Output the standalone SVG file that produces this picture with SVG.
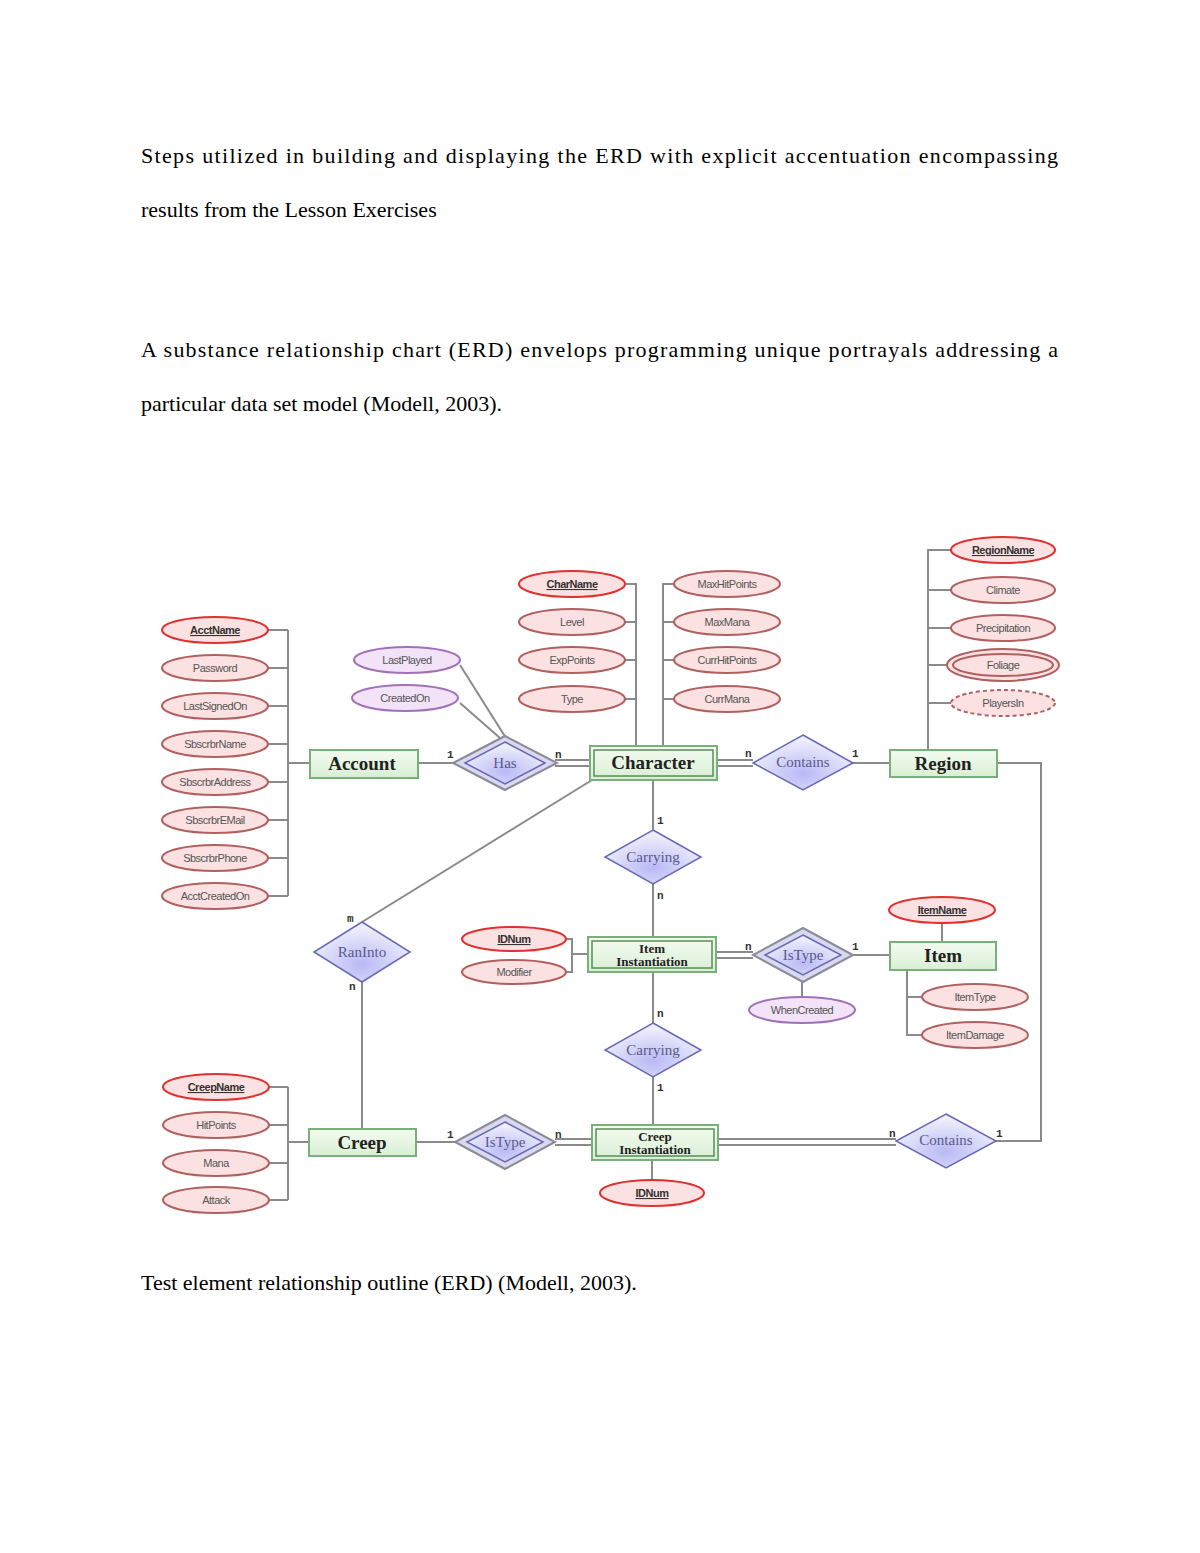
<svg xmlns="http://www.w3.org/2000/svg" width="1200" height="1553" viewBox="0 0 1200 1553">
<defs>
<radialGradient id="rg" cx="50%" cy="70%" r="60%"><stop offset="0" stop-color="#b9b9f5"/><stop offset="1" stop-color="#eeeefc"/></radialGradient>
<linearGradient id="eg" x1="0" y1="0" x2="0" y2="1"><stop offset="0" stop-color="#f4fbf0"/><stop offset="1" stop-color="#d8efd4"/></linearGradient>
</defs>
<style>
.p{font-family:"Liberation Serif",serif;font-size:22px;fill:#000}
.c{stroke:#8a8a8a;stroke-width:2;fill:none}
.ent rect{fill:url(#eg);stroke:#79b079;stroke-width:2}
.ent .in{fill:none;stroke:#5c8a5c;stroke-width:1.5}
.et{font-family:"Liberation Serif",serif;font-weight:bold;font-size:19px;fill:#222;text-anchor:middle}
.et2{font-family:"Liberation Serif",serif;font-weight:bold;font-size:13px;fill:#222;text-anchor:middle}
.at ellipse{fill:#fbe1e1;stroke:#b06060;stroke-width:2}
.key ellipse{stroke:#e03030}
.pu ellipse{fill:#f3e3f8;stroke:#a070b8}
.at text{font-family:"Liberation Sans",sans-serif;font-size:11px;fill:#555;text-anchor:middle;letter-spacing:-0.5px}
.key text{text-decoration:underline;font-weight:bold;fill:#333}
.rel polygon{fill:url(#rg);stroke:#6868b8;stroke-width:1.5}
.rel .o{fill:#d8d8ee;stroke:#8a8a9a;stroke-width:2}
.rt{font-family:"Liberation Serif",serif;font-size:15px;fill:#5a5a8a;text-anchor:middle}
.lb{font-family:"Liberation Mono",monospace;font-size:11px;font-weight:bold;fill:#333}
</style>
<rect width="1200" height="1553" fill="#fff"/>
<text class="p" x="141" y="163" textLength="917" lengthAdjust="spacing">Steps utilized in building and displaying the ERD with explicit accentuation encompassing</text>
<text class="p" x="141" y="217">results from the Lesson Exercises</text>
<text class="p" x="141" y="357" textLength="917" lengthAdjust="spacing">A substance relationship chart (ERD) envelops programming unique portrayals addressing a</text>
<text class="p" x="141" y="411">particular data set model (Modell, 2003).</text>
<text class="p" x="141" y="1290">Test element relationship outline (ERD) (Modell, 2003).</text>

<g id="connectors">
<path class="c" d="M268 630H288M268 668H288M268 706H288M268 744H288M268 782H288M268 820H288M268 858H288M268 896H288M288 630V896M288 763H310"/>
<path class="c" d="M418 763H455M555 760H590M555 766H590"/>
<path class="c" d="M460 665L506 738M460 703L500 738"/>
<path class="c" d="M625 584H636V746M625 622H636M625 660H636M625 699H636M680 584H663V746M680 622H663M680 660H663M680 699H663"/>
<path class="c" d="M717 760H753M717 766H753M853 763H890"/>
<path class="c" d="M955 550H928V750M955 590H928M955 628H928M948 665H928M955 703H928"/>
<path class="c" d="M997 763H1041V1141H996"/>
<path class="c" d="M653 780V830M653 884V937M653 972V1023M653 1077V1125"/>
<path class="c" d="M566 939H572V972H566M572 954H588"/>
<path class="c" d="M716 952H753M716 958H753M853 955H890M942 924V942M802 982V996"/>
<path class="c" d="M907 970V1035H922M907 997H922"/>
<path class="c" d="M718 1139H896M718 1145H896M652 1160V1179"/>
<path class="c" d="M268 1087H288M268 1125H288M268 1163H288M268 1200H288M288 1087V1200M288 1142H309"/>
<path class="c" d="M416 1142H455M555 1139H592M555 1145H592"/>
<path class="c" d="M592 780L362 922M362 982V1129" stroke-width="1.5"/>
</g>
<g>
<text class="lb" x="447" y="758">1</text><text class="lb" x="555" y="758">n</text>
<text class="lb" x="745" y="757">n</text><text class="lb" x="852" y="757">1</text>
<text class="lb" x="657" y="824">1</text><text class="lb" x="657" y="899">n</text>
<text class="lb" x="745" y="950">n</text><text class="lb" x="852" y="950">1</text>
<text class="lb" x="657" y="1017">n</text><text class="lb" x="657" y="1091">1</text>
<text class="lb" x="447" y="1138">1</text><text class="lb" x="555" y="1138">n</text>
<text class="lb" x="889" y="1137">n</text><text class="lb" x="996" y="1137">1</text>
<text class="lb" x="347" y="922">m</text><text class="lb" x="349" y="990">n</text>
</g>

<g id="acctname" class="at key"><ellipse cx="215" cy="630" rx="53" ry="13"/><text x="215" y="634">AcctName</text></g>
<g id="password" class="at"><ellipse cx="215" cy="668" rx="53" ry="13"/><text x="215" y="672">Password</text></g>
<g id="lastsignedon" class="at"><ellipse cx="215" cy="706" rx="53" ry="13"/><text x="215" y="710">LastSignedOn</text></g>
<g id="sbscrbrname" class="at"><ellipse cx="215" cy="744" rx="53" ry="13"/><text x="215" y="748">SbscrbrName</text></g>
<g id="sbscrbraddress" class="at"><ellipse cx="215" cy="782" rx="53" ry="13"/><text x="215" y="786">SbscrbrAddress</text></g>
<g id="sbscrbremail" class="at"><ellipse cx="215" cy="820" rx="53" ry="13"/><text x="215" y="824">SbscrbrEMail</text></g>
<g id="sbscrbrphone" class="at"><ellipse cx="215" cy="858" rx="53" ry="13"/><text x="215" y="862">SbscrbrPhone</text></g>
<g id="acctcreatedon" class="at"><ellipse cx="215" cy="896" rx="53" ry="13"/><text x="215" y="900">AcctCreatedOn</text></g>
<g id="account" class="ent"><rect x="310" y="750" width="108" height="28"/><text class="et" x="362" y="770">Account</text></g>

<g id="lastplayed" class="at pu"><ellipse cx="407" cy="660" rx="53" ry="13"/><text x="407" y="664">LastPlayed</text></g>
<g id="createdon" class="at pu"><ellipse cx="405" cy="698" rx="53" ry="13"/><text x="405" y="702">CreatedOn</text></g>
<g id="has" class="rel"><polygon class="o" points="505,736 557,763 505,790 453,763"/><polygon points="505,742 545,763 505,784 465,763"/><text class="rt" x="505" y="768">Has</text></g>

<g id="charname" class="at key"><ellipse cx="572" cy="584" rx="53" ry="13" stroke="#8a2a2a"/><text x="572" y="588">CharName</text></g>
<g id="level" class="at"><ellipse cx="572" cy="622" rx="53" ry="13"/><text x="572" y="626">Level</text></g>
<g id="exppoints" class="at"><ellipse cx="572" cy="660" rx="53" ry="13"/><text x="572" y="664">ExpPoints</text></g>
<g id="type" class="at"><ellipse cx="572" cy="699" rx="53" ry="13"/><text x="572" y="703">Type</text></g>
<g id="maxhitpoints" class="at"><ellipse cx="727" cy="584" rx="53" ry="13"/><text x="727" y="588">MaxHitPoints</text></g>
<g id="maxmana" class="at"><ellipse cx="727" cy="622" rx="53" ry="13"/><text x="727" y="626">MaxMana</text></g>
<g id="curhitpoints" class="at"><ellipse cx="727" cy="660" rx="53" ry="13"/><text x="727" y="664">CurrHitPoints</text></g>
<g id="curmana" class="at"><ellipse cx="727" cy="699" rx="53" ry="13"/><text x="727" y="703">CurrMana</text></g>
<g id="character" class="ent"><rect x="590" y="746" width="127" height="34"/><rect class="in" x="594" y="750" width="119" height="26"/><text class="et" x="653" y="769" font-size="16">Character</text></g>

<g id="contains1" class="rel"><polygon points="803,735 853,763 803,790 753,763"/><text class="rt" x="803" y="767" font-size="13">Contains</text></g>
<g id="regionname" class="at key"><ellipse cx="1003" cy="550" rx="52" ry="13"/><text x="1003" y="554">RegionName</text></g>
<g id="climate" class="at"><ellipse cx="1003" cy="590" rx="52" ry="13"/><text x="1003" y="594">Climate</text></g>
<g id="precipitation" class="at"><ellipse cx="1003" cy="628" rx="52" ry="13"/><text x="1003" y="632">Precipitation</text></g>
<g id="foliage" class="at"><ellipse cx="1003" cy="665" rx="56" ry="16" fill="#eee" stroke="#888"/><ellipse cx="1003" cy="665" rx="50" ry="11" stroke="#888"/><text x="1003" y="669">Foliage</text></g>
<g id="playersin" class="at"><ellipse cx="1003" cy="703" rx="52" ry="13" fill="#fbfbe0" stroke="#c8c870" stroke-dasharray="4 3"/><text x="1003" y="707">PlayersIn</text></g>
<g id="region" class="ent"><rect x="890" y="750" width="107" height="27"/><text class="et" x="943" y="770">Region</text></g>

<g id="carrying1" class="rel"><polygon points="653,830 701,857 653,884 605,857"/><text class="rt" x="653" y="862">Carrying</text></g>
<g id="idnum1" class="at key"><ellipse cx="514" cy="939" rx="52" ry="12" stroke="#b03030"/><text x="514" y="943">IDNum</text></g>
<g id="modifier" class="at"><ellipse cx="514" cy="972" rx="52" ry="12"/><text x="514" y="976">Modifier</text></g>
<g id="iteminst" class="ent"><rect x="588" y="937" width="128" height="35"/><rect class="in" x="592" y="941" width="120" height="27"/><text class="et2" x="652" y="953">Item</text><text class="et2" x="652" y="966">Instantiation</text></g>
<g id="istype1" class="rel"><polygon class="o" points="803,928 853,955 803,982 753,955"/><polygon points="803,935 841,955 803,975 765,955"/><text class="rt" x="803" y="960">IsType</text></g>
<g id="whencreated" class="at pu"><ellipse cx="802" cy="1010" rx="53" ry="13"/><text x="802" y="1014">WhenCreated</text></g>
<g id="itemname" class="at key"><ellipse cx="942" cy="910" rx="53" ry="13"/><text x="942" y="914">ItemName</text></g>
<g id="item" class="ent"><rect x="890" y="942" width="106" height="28"/><text class="et" x="943" y="962">Item</text></g>
<g id="itemtype" class="at"><ellipse cx="975" cy="997" rx="53" ry="13"/><text x="975" y="1001">ItemType</text></g>
<g id="itemdamage" class="at"><ellipse cx="975" cy="1035" rx="53" ry="13"/><text x="975" y="1039">ItemDamage</text></g>

<g id="carrying2" class="rel"><polygon points="653,1023 701,1050 653,1077 605,1050"/><text class="rt" x="653" y="1055">Carrying</text></g>
<g id="ranInto" class="rel"><polygon points="362,922 410,952 362,982 314,952"/><text class="rt" x="362" y="957">RanInto</text></g>

<g id="creepname" class="at key"><ellipse cx="216" cy="1087" rx="53" ry="13"/><text x="216" y="1091">CreepName</text></g>
<g id="hitpoints" class="at"><ellipse cx="216" cy="1125" rx="53" ry="13"/><text x="216" y="1129">HitPoints</text></g>
<g id="mana" class="at"><ellipse cx="216" cy="1163" rx="53" ry="13"/><text x="216" y="1167">Mana</text></g>
<g id="attack" class="at"><ellipse cx="216" cy="1200" rx="53" ry="13"/><text x="216" y="1204">Attack</text></g>
<g id="creep" class="ent"><rect x="309" y="1129" width="107" height="27"/><text class="et" x="362" y="1149">Creep</text></g>
<g id="istype2" class="rel"><polygon class="o" points="505,1115 555,1142 505,1169 455,1142"/><polygon points="505,1122 543,1142 505,1162 467,1142"/><text class="rt" x="505" y="1147">IsType</text></g>
<g id="creepinst" class="ent"><rect x="592" y="1125" width="126" height="35"/><rect class="in" x="596" y="1129" width="118" height="27"/><text class="et2" x="655" y="1141">Creep</text><text class="et2" x="655" y="1154">Instantiation</text></g>
<g id="idnum2" class="at key"><ellipse cx="652" cy="1193" rx="52" ry="13" stroke="#b03030"/><text x="652" y="1197">IDNum</text></g>
<g id="contains2" class="rel"><polygon points="946,1114 996,1141 946,1168 896,1141"/><text class="rt" x="946" y="1145" font-size="13">Contains</text></g>
</svg>
